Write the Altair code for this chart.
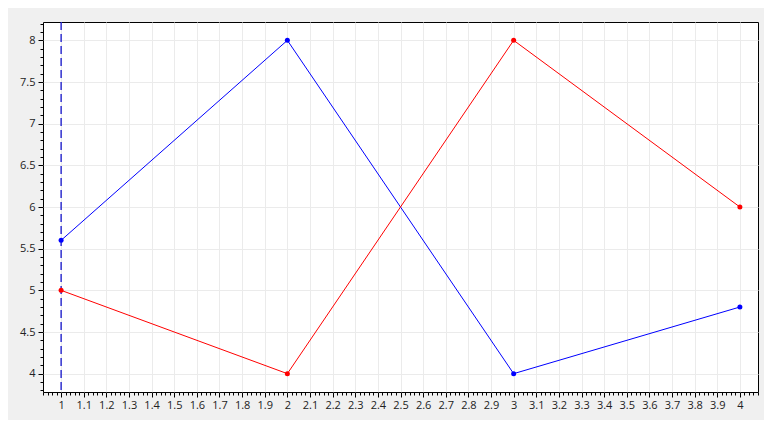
import altair as alt
import pandas as pd

# data
x_vals = [1, 2, 3, 4]
blue_vals = [5.6, 8, 4, 4.8]
red_vals = [5, 4, 8, 6]
marker_x = [1]

x_domain = [0.92, 4.08]
y_domain = [3.78, 8.22]

x_ticks = [round(0.92 + 0.02 * i, 2) for i in range(159)]
y_ticks = [round(3.8 + 0.1 * i, 1) for i in range(45)]

df = pd.DataFrame({
    "x": x_vals * 2,
    "y": blue_vals + red_vals,
    "series": ["blue"] * 4 + ["red"] * 4,
})
df_rule = pd.DataFrame({"x": marker_x})

x_major = "abs(round(datum.value*10) - datum.value*10) < 0.001"
y_major = "abs(round(datum.value*2) - datum.value*2) < 0.001"

x_axis = alt.Axis(
    values=x_ticks,
    labelExpr=f"({x_major}) ? format(round(datum.value*10)/10, '~g') : ''",
    labelOverlap=False,
    labelFont="Open Sans",
    labelFontSize=11,
    labelColor="#222222",
    labelPadding=2,
    tickColor="#000000",
    tickSize={"condition": {"test": x_major, "value": 5}, "value": 3},
    gridColor="#ebebeb",
    gridOpacity={"condition": {"test": x_major, "value": 1}, "value": 0},
    domain=False,
    title=None,
)
y_axis = alt.Axis(
    values=y_ticks,
    labelExpr=f"({y_major}) ? format(round(datum.value*2)/2, '~g') : ''",
    labelOverlap=False,
    labelFont="Open Sans",
    labelFontSize=11,
    labelColor="#222222",
    labelPadding=3,
    tickColor="#000000",
    tickSize={"condition": {"test": y_major, "value": 5}, "value": 3},
    gridColor="#ebebeb",
    gridOpacity={"condition": {"test": y_major, "value": 1}, "value": 0},
    domain=False,
    title=None,
)

xs = alt.Scale(domain=x_domain, nice=False, zero=False)
ys = alt.Scale(domain=y_domain, nice=False, zero=False)
color = alt.Color("series:N", scale=alt.Scale(domain=["blue", "red"], range=["#0000ff", "#ff0000"]), legend=None)

base = alt.Chart(df).encode(
    x=alt.X("x:Q", scale=xs, axis=x_axis),
    y=alt.Y("y:Q", scale=ys, axis=y_axis),
    color=color,
)
lines = base.mark_line(strokeWidth=1)
points = base.mark_circle(size=25, opacity=1)

rule = alt.Chart(df_rule).mark_rule(color="#0000c8", strokeDash=[8, 4], strokeWidth=1.2).encode(
    x=alt.X("x:Q", scale=xs, axis=x_axis)
)

chart = alt.layer(lines, rule, points).properties(
    width=715,
    height=370,
    autosize=alt.AutoSizeParams(type="none"),
    padding={"left": 35, "top": 14, "right": 6, "bottom": 28},
    background="#f0f0f0",
).configure_view(fill="white", stroke="black", strokeWidth=1)

chart.save("out.html", embed_options={"renderer": "svg", "actions": False})
